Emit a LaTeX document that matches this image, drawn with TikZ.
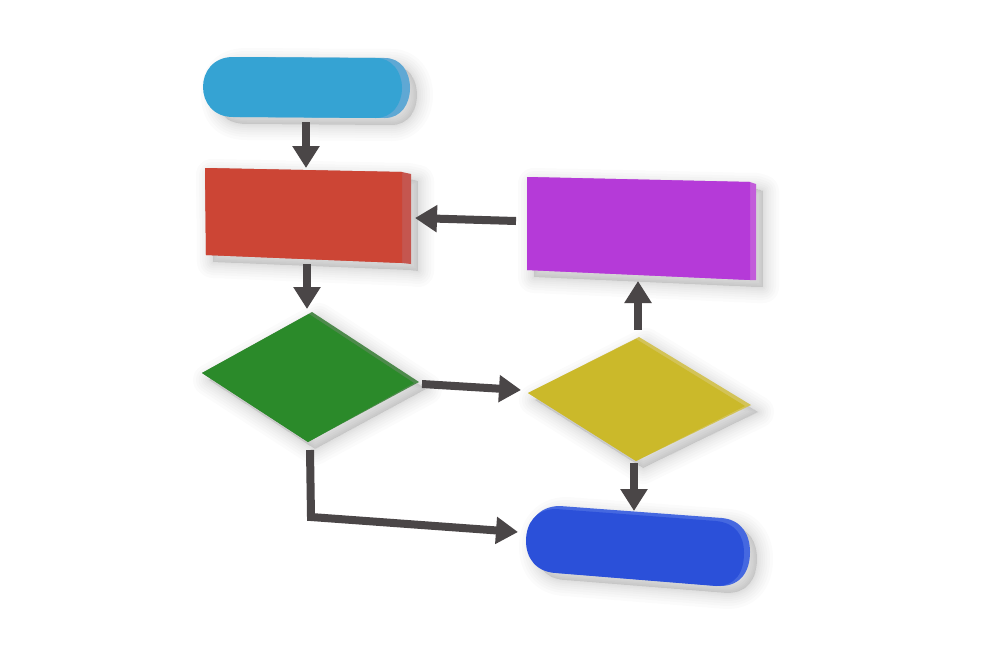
\documentclass[tikz,border=0pt]{standalone}
\usetikzlibrary{arrows.meta}
\definecolor{cTop}{HTML}{35A3D3}
\definecolor{cTopS}{HTML}{5FA8D4}
\definecolor{cRed}{HTML}{CC4535}
\definecolor{cRedS}{HTML}{C5564F}
\definecolor{cPur}{HTML}{B53AD8}
\definecolor{cPurS}{HTML}{C25CDA}
\definecolor{cGrn}{HTML}{2B8A2A}
\definecolor{cGrnS}{HTML}{4E8A4C}
\definecolor{cYel}{HTML}{CBB92A}
\definecolor{cYelS}{HTML}{D3C357}
\definecolor{cBlu}{HTML}{2B50D9}
\definecolor{cBluS}{HTML}{4568E0}
\definecolor{arrgray}{HTML}{4A4647}
\def\pTopB{(240,57) -- (385,58) .. controls (401,58) and (410,72) .. (410,88) .. controls (410,104) and (401,118) .. (385,118) -- (240,117) .. controls (215,117) and (210,102) .. (210,87) .. controls (210,72) and (215,57) .. (240,57) -- cycle}
\def\pRedB{(205,168) -- (402,172) -- (411,174) -- (411,264) -- (402,263) -- (206,255) -- cycle}
\def\pPurB{(527,177) -- (750,182) -- (756,184) -- (756,280) -- (750,280) -- (527,270) -- cycle}
\def\pGrnB{(202,373) -- (312,312) -- (419,382) -- (308,442) -- cycle}
\def\pYelB{(528,393) -- (639,337) -- (751,405) -- (636,461) -- cycle}
\def\pBluB{(560,506) -- (722,518) .. controls (742,520) and (750,535) .. (750,552) .. controls (750,571) and (741,586) .. (720,586) -- (558,573) .. controls (538,572) and (528,558) .. (528,540) .. controls (528,522) and (538,506) .. (560,506) -- cycle}
\begin{document}
\begin{tikzpicture}[x=1pt,y=-1pt,
  shlayer/.style={fill=black,draw=black,fill opacity=0.012,draw opacity=0.016,line join=round,shift={(7,7)}},
  arr/.style={line width=8pt,draw=arrgray,line join=miter,-{Triangle[width=26pt,length=22pt]}}]
\useasboundingbox (0,0) rectangle (992,662);
\fill[white] (0,0) rectangle (992,662);

% soft shadows
\foreach \w in {32,26,21,16,12,8,5,2}{
  \path[shlayer,line width=\w pt] \pTopB;
  \path[shlayer,line width=\w pt] \pRedB;
  \path[shlayer,line width=\w pt] \pPurB;
  \path[shlayer,line width=\w pt] \pGrnB;
  \path[shlayer,line width=\w pt] \pYelB;
  \path[shlayer,line width=\w pt] \pBluB;
}

% top terminal (blue)
\fill[cTopS] \pTopB;
\fill[cTop] (233,57) -- (376,58) .. controls (392,58) and (402,72) .. (402,88) .. controls (402,104) and (392,118) .. (376,118) -- (233,117) .. controls (213,117) and (203,102) .. (203,87) .. controls (203,72) and (213,57) .. (233,57) -- cycle;
\coordinate (topS) at (306,122);

% red process
\fill[cRedS] \pRedB;
\fill[cRed] (205,168) -- (402,172) -- (402,263) -- (206,255) -- cycle;
\coordinate (redN) at (306,168);
\coordinate (redS) at (307,264);
\coordinate (redE) at (415,218);

% purple process
\fill[cPurS] \pPurB;
\fill[cPur] (527,177) -- (750,182) -- (750,280) -- (527,270) -- cycle;
\coordinate (purW) at (516,221);
\coordinate (purS) at (638,281);

% green decision
\fill[cGrnS] \pGrnB;
\fill[cGrn] (202,373) -- (309,314) -- (414,383) -- (308,442) -- cycle;
\coordinate (grnN) at (307,309);
\coordinate (grnE) at (422,384);
\coordinate (grnS) at (310,450);

% yellow decision
\fill[cYelS] \pYelB;
\fill[cYel] (528,393) -- (636,339) -- (745,406) -- (636,461) -- cycle;
\coordinate (yelW) at (521,390);
\coordinate (yelN) at (638,330);
\coordinate (yelS) at (634,463);

% bottom terminal (blue)
\fill[cBluS] \pBluB;
\fill[cBlu] (556,509) -- (716,521) .. controls (736,523) and (744,536) .. (744,553) .. controls (744,572) and (736,586) .. (716,586) -- (556,573) .. controls (536,572) and (526,558) .. (526,541) .. controls (526,523) and (536,509) .. (556,509) -- cycle;
\coordinate (bluN) at (634,511);
\coordinate (bluW) at (518,532);
\coordinate (bend) at (311,517);

% connectors
\draw[arr] (topS) -- (redN);
\draw[arr] (redS) -- (grnN);
\draw[arr] (purW) -- (redE);
\draw[arr] (grnE) -- (yelW);
\draw[arr] (yelN) -- (purS);
\draw[arr] (yelS) -- (bluN);
\draw[arr] (grnS) -- (bend) -- (bluW);
\end{tikzpicture}
\end{document}
